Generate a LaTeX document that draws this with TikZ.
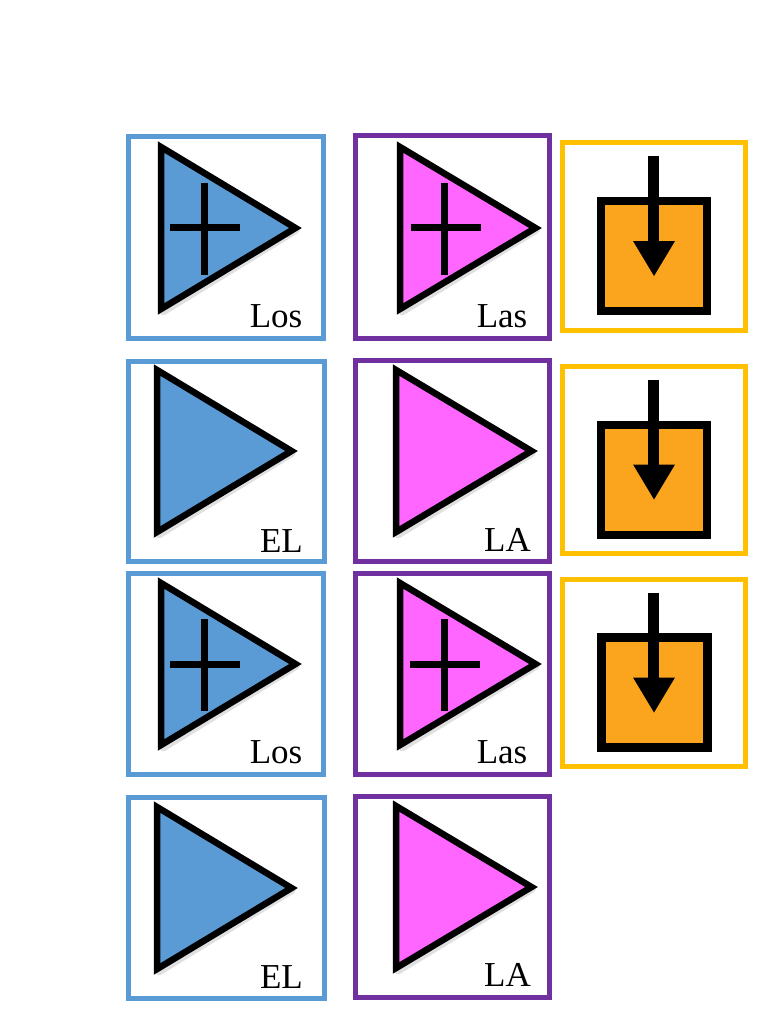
\documentclass[tikz,border=0pt]{standalone}
\usepackage{fontspec}
\setmainfont{Liberation Serif}
\usetikzlibrary{calc}
\definecolor{bluebox}{HTML}{5B9BD5}
\definecolor{purplebox}{HTML}{7030A0}
\definecolor{yellowbox}{HTML}{FFC000}
\definecolor{bluefill}{HTML}{5B9BD5}
\definecolor{pinkfill}{HTML}{FF66FF}
\definecolor{orangefill}{HTML}{FBA51E}
\tikzset{
  x=1pt,y=-1pt,
  frame/.style={draw=#1,line width=5pt,fill=white,miter limit=10},
  tri/.style={draw=black,line width=6.5pt,fill=#1,line join=miter,miter limit=10},
  trishadow/.style={fill=black,opacity=0.12,draw=black,line width=7pt,line join=round},
  crossbar/.style={draw=black,line width=7pt},
  tag/.style={font=\fontsize{35}{35}\selectfont,anchor=base east,inner sep=0pt,text=black},
  sq/.style={draw=black,line width=#1,fill=orangefill},
  shaft/.style={draw=black,line width=11pt},
  head/.style={fill=black,draw=none}
}
% #1 left x, #2 mid y, #3 half height, #4 tip x, #5 fill
\newcommand{\triangleat}[5]{%
  \path[trishadow] (#1+2,#2-#3+3) -- (#4+1,#2+2) -- (#1+2,#2+#3+3) -- cycle;
  \path[tri=#5] (#1,#2-#3) -- (#4,#2) -- (#1,#2+#3) -- cycle;
}
% #1 x, #2 y
\newcommand{\crossat}[2]{%
  \path[crossbar] (#1,#2-45) -- (#1,#2+47);
  \path[crossbar] (#1-34,#2) -- (#1+36,#2);
}
% #1 y offset, #2 square line width
\newcommand{\cellat}[2]{%
  \path[frame=yellowbox] (562.5,143+#1) rectangle (745.5,330+#1);
  \path[sq=#2] (601,201+#1) rectangle (707,311+#1);
  \path[shaft] (653.5,156+#1) -- (653.5,245+#1);
  \path[head] (633,241+#1) -- (675,241+#1) -- (654,276+#1) -- cycle;
}
\begin{document}
\begin{tikzpicture}
\useasboundingbox (0,0) rectangle (768,1024);
% blue column
\path[frame=bluebox] (128,137) rectangle (323,338);
\triangleat{161}{228}{81}{295.5}{bluefill}
\crossat{204}{228}
\node[tag] (los1) at (302.5,327) {Los};
\path[frame=bluebox] (128.5,361) rectangle (324.5,561);
\triangleat{157}{451}{81}{291.5}{bluefill}
\node[tag] (el1) at (303,552) {EL};
\path[frame=bluebox] (128,573) rectangle (323.5,774);
\triangleat{161}{664}{81}{295.5}{bluefill}
\crossat{204}{664}
\node[tag] (los2) at (302.5,763) {Los};
\path[frame=bluebox] (128.5,797) rectangle (324.5,998);
\triangleat{157}{888}{81}{291.5}{bluefill}
\node[tag] (el2) at (303,988) {EL};
% purple column
\path[frame=purplebox] (355,136) rectangle (549.5,338);
\triangleat{400}{228}{81}{535.5}{pinkfill}
\crossat{444.5}{228}
\node[tag] (las1) at (527.5,327) {Las};
\path[frame=purplebox] (355,360) rectangle (549.5,561);
\triangleat{396}{451}{81}{531.5}{pinkfill}
\node[tag] (la1) at (531,551) {LA};
\path[frame=purplebox] (355,573) rectangle (549.5,774);
\triangleat{400}{664}{81}{535.5}{pinkfill}
\crossat{444}{664}
\node[tag] (las2) at (527.5,763) {Las};
\path[frame=purplebox] (355,796) rectangle (549.5,997);
\triangleat{396}{887}{81}{531.5}{pinkfill}
\node[tag] (la2) at (531,986) {LA};
% yellow column
\cellat{0}{8pt}
\cellat{223.5}{8pt}
\cellat{436.5}{9pt}
\end{tikzpicture}
\end{document}
